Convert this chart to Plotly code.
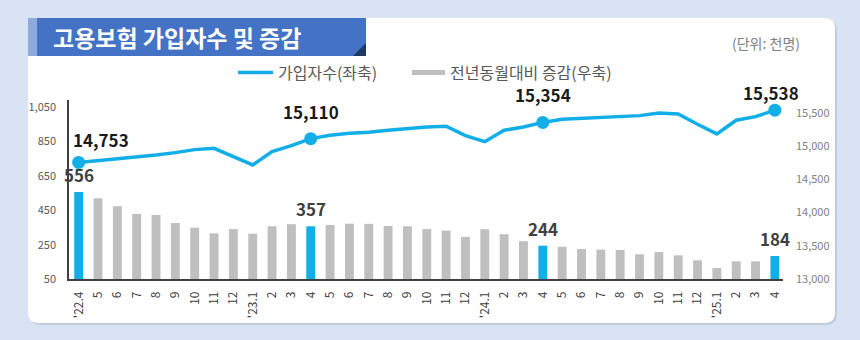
import plotly.graph_objects as go

# Month labels (Apr 2022 - Apr 2025)
months = ["'22.4", "5", "6", "7", "8", "9", "10", "11", "12",
          "'23.1", "2", "3", "4", "5", "6", "7", "8", "9", "10", "11", "12",
          "'24.1", "2", "3", "4", "5", "6", "7", "8", "9", "10", "11", "12",
          "'25.1", "2", "3", "4"]

# Insured workers (thousand persons)
subscribers = [14753, 14779, 14805, 14830, 14865, 14900, 14945, 14965, 14840,
               14715, 14915, 15005, 15110, 15161, 15191, 15206, 15236, 15261,
               15286, 15296, 15155, 15065, 15236, 15286, 15354, 15402, 15417,
               15426, 15441, 15456, 15497, 15482, 15327, 15181, 15387, 15441,
               15538]

# Year-on-year change (thousand persons)
yoy_change = [556, 520, 474, 429, 423, 376, 349, 316, 341,
              314, 357, 369, 357, 365, 372, 371, 359, 357, 341, 332, 295,
              340, 311, 270, 244, 238, 225, 221, 219, 194, 207, 188, 159,
              114, 153, 153, 184]

# April of each year is highlighted and labelled
highlight = [0, 12, 24, 36]

BLUE = "#12aee8"
GRAY_BAR = "#bfbfbf"
FONT = "Noto Sans CJK KR"

# Plot-area geometry in pixels
W, H = 860, 340
L, R, T, B = 69, 783, 100, 279


def px(x):
    return (x - L) / (R - L)


def py(y):
    return (B - y) / (B - T)


def rounded_rect(x0, y0, x1, y1, r):
    return (f"M {px(x0 + r)},{py(y0)} L {px(x1 - r)},{py(y0)} "
            f"Q {px(x1)},{py(y0)} {px(x1)},{py(y0 + r)} "
            f"L {px(x1)},{py(y1 - r)} Q {px(x1)},{py(y1)} {px(x1 - r)},{py(y1)} "
            f"L {px(x0 + r)},{py(y1)} Q {px(x0)},{py(y1)} {px(x0)},{py(y1 - r)} "
            f"L {px(x0)},{py(y0 + r)} Q {px(x0)},{py(y0)} {px(x0 + r)},{py(y0)} Z")


xs = list(range(len(months)))
bar_colors = [BLUE if i in highlight else GRAY_BAR for i in xs]

fig = go.Figure()
fig.add_trace(go.Bar(
    x=xs, y=yoy_change, marker=dict(color=bar_colors, line=dict(width=0)),
    width=0.46, yaxis="y", showlegend=False, hoverinfo="skip"))
fig.add_trace(go.Scatter(
    x=xs, y=subscribers, yaxis="y2", mode="lines",
    line=dict(color=BLUE, width=3.5), showlegend=False, hoverinfo="skip"))
fig.add_trace(go.Scatter(
    x=highlight, y=[subscribers[i] for i in highlight], yaxis="y2",
    mode="markers", marker=dict(color=BLUE, size=13),
    showlegend=False, hoverinfo="skip"))

shapes = [
    # card shadow and card
    dict(type="path", xref="paper", yref="paper", layer="below",
         path=rounded_rect(30, 20, 837, 325, 11),
         fillcolor="#c3cde0", line=dict(width=0)),
    dict(type="path", xref="paper", yref="paper", layer="below",
         path=rounded_rect(28, 18, 835, 323, 11),
         fillcolor="white", line=dict(width=0)),
    # title banner
    dict(type="rect", xref="paper", yref="paper", layer="below",
         x0=px(28), x1=px(37), y0=py(56), y1=py(18),
         fillcolor="#8eaadb", line=dict(width=0)),
    dict(type="rect", xref="paper", yref="paper", layer="below",
         x0=px(37), x1=px(366), y0=py(56), y1=py(18),
         fillcolor="#4472c4", line=dict(width=0)),
    dict(type="path", xref="paper", yref="paper", layer="below",
         path=f"M {px(353)},{py(56)} L {px(366)},{py(43)} L {px(366)},{py(56)} Z",
         fillcolor="#1f3864", line=dict(width=0)),
    # legend swatches
    dict(type="line", xref="paper", yref="paper",
         x0=px(238), x1=px(273), y0=py(72.5), y1=py(72.5),
         line=dict(color=BLUE, width=3.5)),
    dict(type="rect", xref="paper", yref="paper",
         x0=px(412), x1=px(445), y0=py(75), y1=py(70),
         fillcolor=GRAY_BAR, line=dict(width=0)),
]

annotations = [
    dict(text="<b>고용보험 가입자수 및 증감</b>", xref="paper", yref="paper",
         x=px(51), y=py(37), xanchor="left", yanchor="middle", showarrow=False,
         font=dict(family=FONT, size=23, color="white")),
    dict(text="(단위: 천명)", xref="paper", yref="paper",
         x=px(802), y=py(43), xanchor="right", yanchor="middle", showarrow=False,
         font=dict(family=FONT, size=14, color="#7f7f7f")),
    dict(text="가입자수(좌축)", xref="paper", yref="paper",
         x=px(276), y=py(72), xanchor="left", yanchor="middle", showarrow=False,
         font=dict(family=FONT, size=16, color="#595959")),
    dict(text="전년동월대비 증감(우축)", xref="paper", yref="paper",
         x=px(448), y=py(72), xanchor="left", yanchor="middle", showarrow=False,
         font=dict(family=FONT, size=16, color="#595959")),
]

# value labels for the highlighted months
line_label_shift = [(22, 8), (0, 13), (0, 13), (-4, 3)]
for i, (dx, dy) in zip(highlight, line_label_shift):
    annotations.append(dict(
        text=f"<b>{subscribers[i]:,}</b>", x=i, y=subscribers[i], xref="x", yref="y2",
        xanchor="center", yanchor="bottom", xshift=dx, yshift=dy, showarrow=False,
        font=dict(family=FONT, size=17, color="#1a1a1a")))
    annotations.append(dict(
        text=f"<b>{yoy_change[i]:,}</b>", x=i, y=yoy_change[i], xref="x", yref="y",
        xanchor="center", yanchor="bottom", yshift=3, showarrow=False,
        font=dict(family=FONT, size=17, color="#404040")))

fig.update_layout(
    width=W, height=H,
    margin=dict(l=L, r=W - R, t=T, b=H - B, pad=0),
    paper_bgcolor="#dae3f3", plot_bgcolor="rgba(0,0,0,0)",
    font=dict(family=FONT),
    bargap=0.5,
    xaxis=dict(
        range=[-0.5, 36.42], tickmode="array", tickvals=xs, ticktext=months,
        tickangle=-90, showgrid=False, zeroline=False,
        showline=True, linecolor="#404040", linewidth=1.5,
        ticks="", ticklabelstandoff=6,
        tickfont=dict(family=FONT, size=12, color="#404040")),
    yaxis=dict(
        range=[50, 1092.5], tickmode="array",
        tickvals=[50, 250, 450, 650, 850, 1050],
        ticktext=["50", "250", "450", "650", "850", "1,050"],
        showgrid=False, zeroline=False,
        showline=True, linecolor="#404040", linewidth=1.5,
        ticks="", ticklabelstandoff=9,
        tickfont=dict(family=FONT, size=11, color="#595959")),
    yaxis2=dict(
        range=[13000, 15691], overlaying="y", side="right", tickmode="array",
        tickvals=[13000, 13500, 14000, 14500, 15000, 15500],
        ticktext=["13,000", "13,500", "14,000", "14,500", "15,000", "15,500"],
        showgrid=False, zeroline=False, showline=False,
        ticks="", ticklabelstandoff=12,
        tickfont=dict(family=FONT, size=11, color="#7f7f7f")),
    shapes=shapes,
    annotations=annotations,
)

fig.write_html("out.html")
